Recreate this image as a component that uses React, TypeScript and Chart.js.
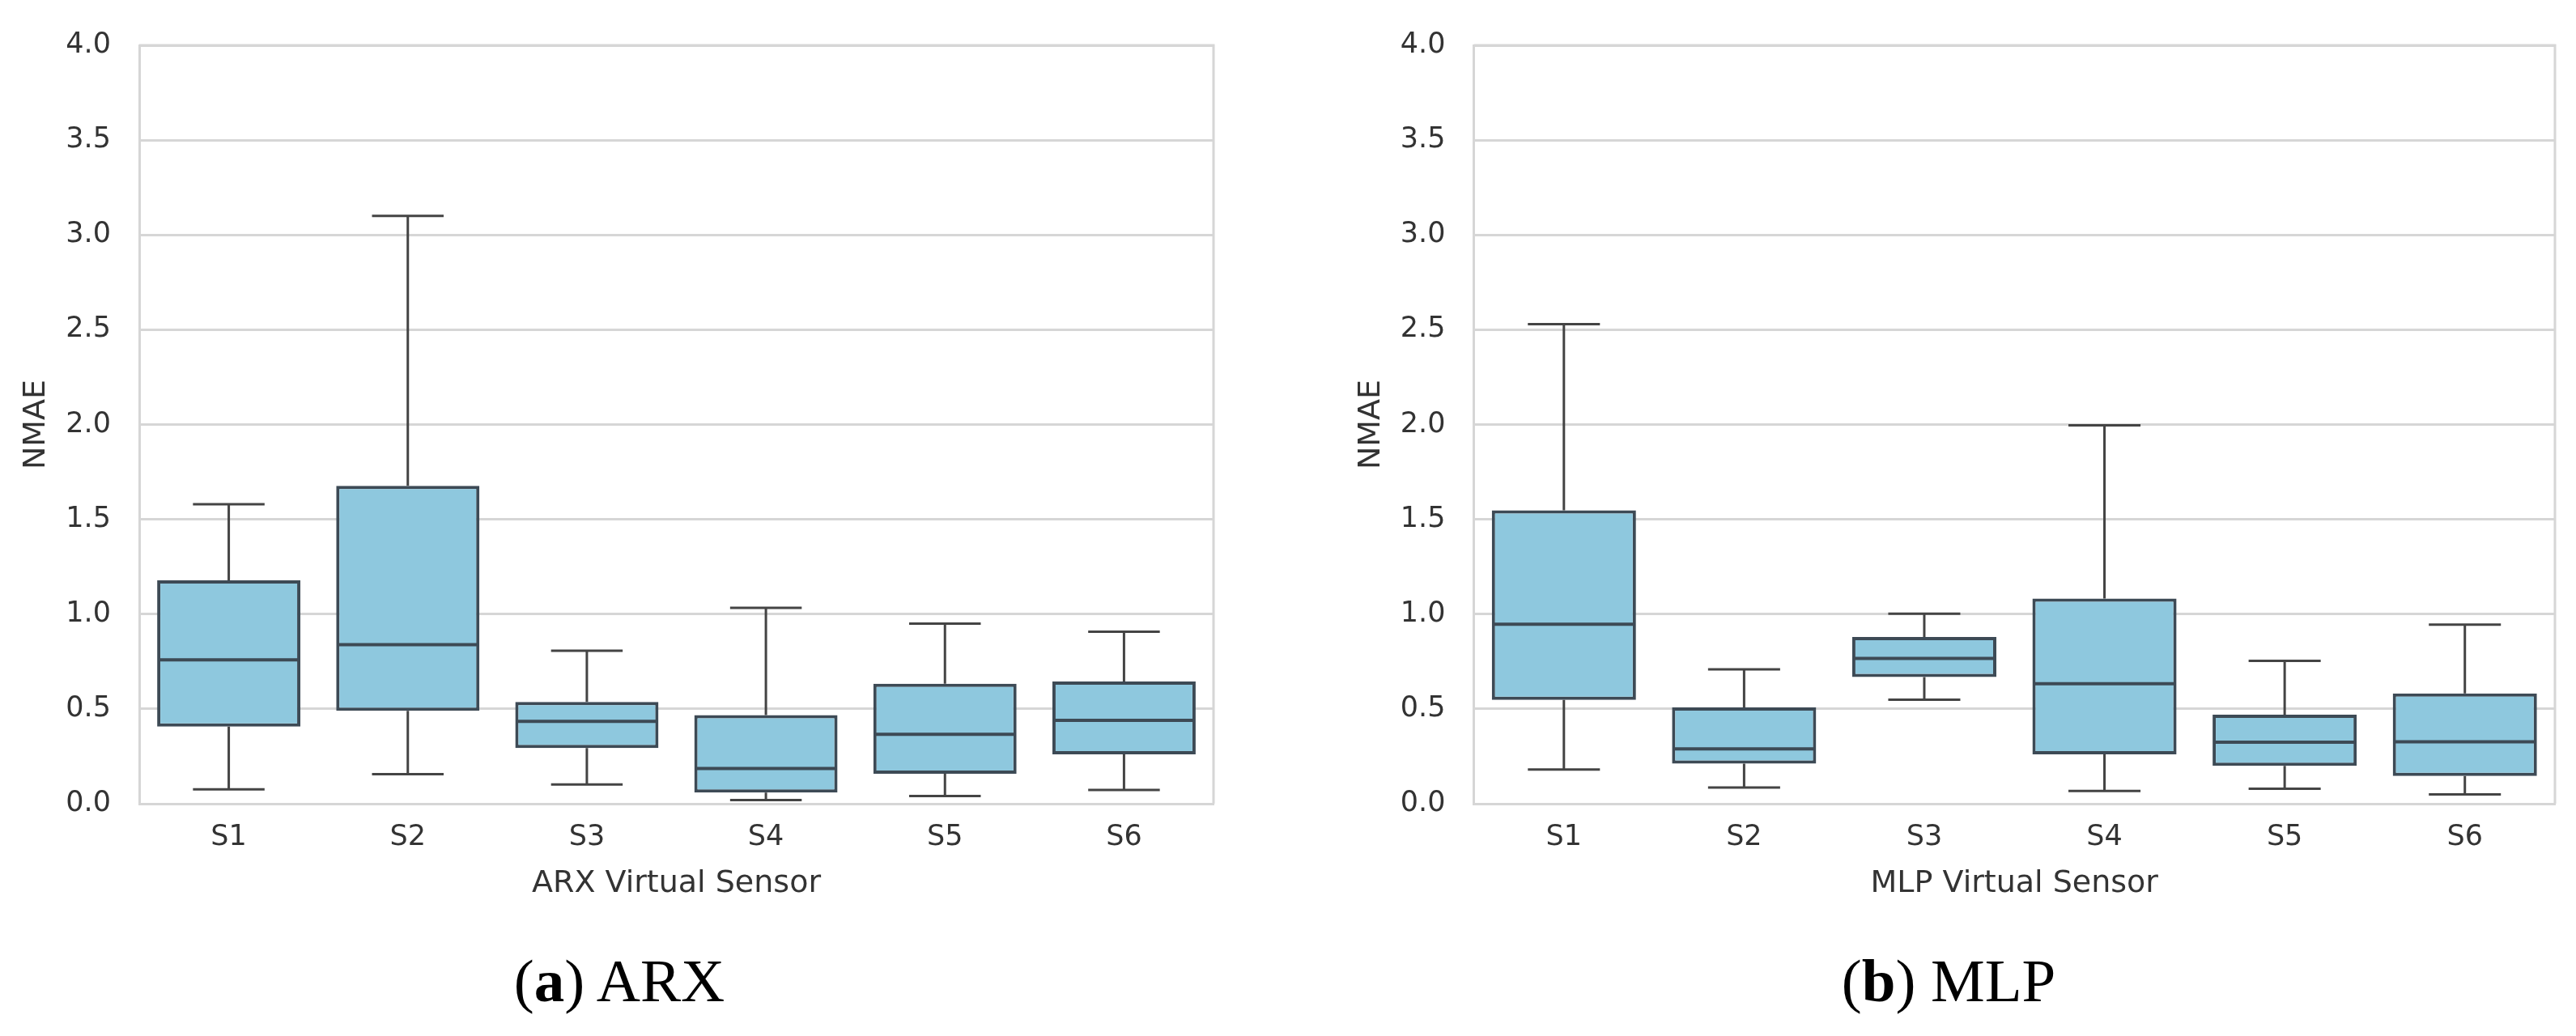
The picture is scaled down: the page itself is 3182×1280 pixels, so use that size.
import React, { useEffect, useRef } from "react";
import { Chart, registerables } from "chart.js";

Chart.register(...registerables);

const sensors = ["S1", "S2", "S3", "S4", "S5", "S6"];
const yTicks = [0, 0.5, 1, 1.5, 2, 2.5, 3, 3.5, 4];

// ARX: whisker low, Q1, median, Q3, whisker high
const arxLow = [0.076, 0.156, 0.101, 0.019, 0.041, 0.073];
const arxQ1 = [0.407, 0.49, 0.293, 0.059, 0.158, 0.26];
const arxMed = [0.759, 0.839, 0.434, 0.186, 0.366, 0.44];
const arxQ3 = [1.178, 1.677, 0.537, 0.467, 0.633, 0.645];
const arxHigh = [1.58, 3.1, 0.807, 1.033, 0.95, 0.907];

// MLP
const mlpLow = [0.18, 0.085, 0.549, 0.067, 0.079, 0.049];
const mlpQ1 = [0.547, 0.211, 0.668, 0.26, 0.2, 0.146];
const mlpMed = [0.947, 0.289, 0.766, 0.633, 0.324, 0.327];
const mlpQ3 = [1.547, 0.508, 0.879, 1.082, 0.47, 0.582];
const mlpHigh = [2.529, 0.709, 1.002, 1.996, 0.753, 0.945];

const BOX_FILL = "#8ec8de";
const BOX_EDGE = "#3d4a55";
const WHISKER = "#444444";
const GRID = "#d6d6d6";
const TEXT = "#333333";

type PanelProps = {
  xTitle: string;
  low: number[];
  q1: number[];
  med: number[];
  q3: number[];
  high: number[];
  yAxisWidth: number;
  rightPad: number;
  yTitlePad: number;
};

function BoxPanel(props: PanelProps) {
  const ref = useRef<HTMLCanvasElement | null>(null);
  useEffect(() => {
    if (!ref.current) return;
    const { low, q1, med, q3, high } = props;

    const boxPlugin = {
      id: "boxParts",
      beforeDatasetsDraw(chart: any) {
        const ctx = chart.ctx;
        const xs = chart.scales.x;
        const ys = chart.scales.y;
        const step = xs.getPixelForValue(1) - xs.getPixelForValue(0);
        const capHalf = step * 0.2;
        ctx.save();
        ctx.strokeStyle = WHISKER;
        ctx.lineWidth = 3;
        ctx.lineCap = "butt";
        for (let i = 0; i < sensors.length; i++) {
          const cx = xs.getPixelForValue(i);
          const yl = ys.getPixelForValue(low[i]);
          const yh = ys.getPixelForValue(high[i]);
          const y1 = ys.getPixelForValue(q1[i]);
          const y3 = ys.getPixelForValue(q3[i]);
          ctx.beginPath();
          ctx.moveTo(cx, y3);
          ctx.lineTo(cx, yh);
          ctx.moveTo(cx, y1);
          ctx.lineTo(cx, yl);
          ctx.moveTo(cx - capHalf, yh);
          ctx.lineTo(cx + capHalf, yh);
          ctx.moveTo(cx - capHalf, yl);
          ctx.lineTo(cx + capHalf, yl);
          ctx.stroke();
        }
        ctx.restore();
      },
      afterDatasetsDraw(chart: any) {
        const ctx = chart.ctx;
        const xs = chart.scales.x;
        const ys = chart.scales.y;
        const step = xs.getPixelForValue(1) - xs.getPixelForValue(0);
        const half = step * 0.4;
        ctx.save();
        ctx.strokeStyle = BOX_EDGE;
        ctx.lineWidth = 4;
        for (let i = 0; i < sensors.length; i++) {
          const cx = xs.getPixelForValue(i);
          const ym = ys.getPixelForValue(med[i]);
          ctx.beginPath();
          ctx.moveTo(cx - half + 2, ym);
          ctx.lineTo(cx + half - 2, ym);
          ctx.stroke();
        }
        // frame (top & right spines)
        const a = chart.chartArea;
        ctx.strokeStyle = GRID;
        ctx.lineWidth = 3;
        ctx.beginPath();
        ctx.moveTo(a.left, a.top);
        ctx.lineTo(a.right, a.top);
        ctx.lineTo(a.right, a.bottom);
        ctx.stroke();
        ctx.restore();
      },
    };

    const chart = new Chart(ref.current, {
      type: "bar",
      data: {
        labels: sensors,
        datasets: [
          {
            data: sensors.map((_, i) => [q1[i], q3[i]]) as any,
            backgroundColor: BOX_FILL,
            borderColor: BOX_EDGE,
            borderWidth: 4,
            borderSkipped: false,
            categoryPercentage: 1,
            barPercentage: 0.8,
          },
        ],
      },
      options: {
        animation: false,
        responsive: true,
        maintainAspectRatio: false,
        devicePixelRatio: 1,
        layout: { padding: { top: 42, right: props.rightPad, left: 0, bottom: 0 } },
        plugins: { legend: { display: false }, tooltip: { enabled: false } },
        scales: {
          x: {
            grid: { display: false, drawTicks: false },
            border: { display: true, color: GRID, width: 3 },
            ticks: {
              color: TEXT,
              padding: 21,
              font: { family: "DejaVu Sans", size: 35 },
            },
            title: {
              display: true,
              text: props.xTitle,
              color: TEXT,
              font: { family: "DejaVu Sans", size: 38 },
              padding: { top: 0, bottom: 15 },
            },
            afterFit(scale: any) {
              scale.height = 137;
            },
          },
          y: {
            min: 0,
            max: 4,
            afterBuildTicks(scale: any) {
              scale.ticks = yTicks.map((v) => ({ value: v }));
            },
            grid: { color: GRID, lineWidth: 3, drawTicks: false },
            border: { display: true, color: GRID, width: 3 },
            ticks: {
              color: TEXT,
              padding: 35,
              font: { family: "DejaVu Sans", size: 35 },
              callback: (v: any) => Number(v).toFixed(1),
            },
            title: {
              display: true,
              text: "NMAE",
              color: TEXT,
              font: { family: "DejaVu Sans", size: 38 },
              padding: { top: props.yTitlePad, bottom: 0 },
            },
            afterFit(scale: any) {
              scale.width = props.yAxisWidth;
            },
          },
        },
      },
      plugins: [boxPlugin],
    });
    return () => chart.destroy();
  }, []);
  return (
    <div style={{ position: "relative", width: 1591, height: 1130 }}>
      <canvas ref={ref} />
    </div>
  );
}

export default function App() {
  const captionStyle: React.CSSProperties = {
    position: "absolute",
    top: 1174,
    width: 600,
    textAlign: "center",
    fontFamily: "'Liberation Serif', serif",
    fontSize: 75,
    lineHeight: 1,
    color: "#000",
    whiteSpace: "nowrap",
  };
  return (
    <div
      style={{
        position: "absolute",
        left: 0,
        top: 0,
        width: 3182,
        height: 1280,
        background: "#fff",
        overflow: "hidden",
      }}
    >
      <div style={{ position: "absolute", left: 0, top: 0 }}>
        <BoxPanel
          xTitle="ARX Virtual Sensor"
          low={arxLow}
          q1={arxQ1}
          med={arxMed}
          q3={arxQ3}
          high={arxHigh}
          yAxisWidth={172}
          rightPad={92}
          yTitlePad={22}
        />
      </div>
      <div style={{ position: "absolute", left: 1591, top: 0 }}>
        <BoxPanel
          xTitle="MLP Virtual Sensor"
          low={mlpLow}
          q1={mlpQ1}
          med={mlpMed}
          q3={mlpQ3}
          high={mlpHigh}
          yAxisWidth={229.5}
          rightPad={26}
          yTitlePad={80}
        />
      </div>
      <div style={{ ...captionStyle, left: 765 - 300 }}>
        (<b>a</b>) ARX
      </div>
      <div style={{ ...captionStyle, left: 2407 - 300 }}>
        (<b>b</b>) MLP
      </div>
    </div>
  );
}
